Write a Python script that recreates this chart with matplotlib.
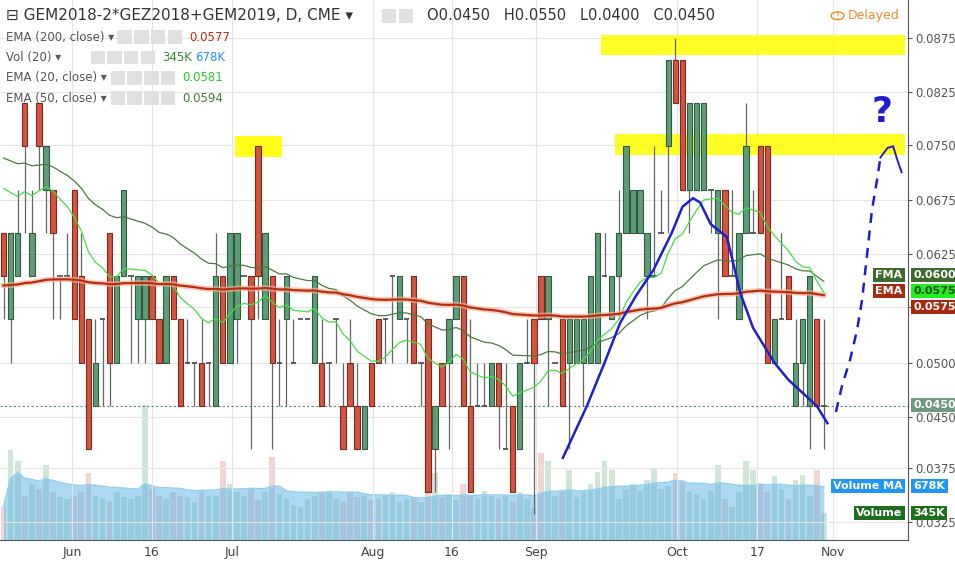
import numpy as np
import pandas as pd
import matplotlib
matplotlib.use("Agg")
import matplotlib.pyplot as plt
from matplotlib.patches import Rectangle, Circle

# OHLC in units of 0.005
opens  = [13,11,12,16,12,16,14,14,12,12,14,12,11,9,11,13,10,12,12,11,11,12,11,10,12,11,10,10,10,10,
          9,12,10,11,12,12,15,11,12,10,11,10,11,11,10,10,10,11,9,10,9,8,10,11,11,12,11,11,12,10,
          11,8,10,10,11,12,9,9,9,9,10,8,9,8,10,11,12,11,10,11,10,10,10,10,10,12,11,12,13,13,
          13,12,12,13,15,17,17,14,14,14,14,13,14,12,11,13,13,15,15,10,11,12,9,10,9,11,9]
highs  = [13,13,14,16,14,16,15,14,12,13,14,13,11,11,11,13,12,14,12,12,12,12,11,12,12,11,11,10,11,10,
          13,12,13,13,12,12,15,13,12,11,12,11,11,11,12,11,10,11,10,11,10,9,10,11,11,12,12,11,12,10,
          11,9,10,11,12,12,11,10,10,10,10,10,9,10,11,11,12,12,10,11,11,11,11,12,13,13,12,14,15,14,
          14,13,15,14,17,17.5,17,16,16,16,14,14,14,14,13,16,14,15,15,11,13,12,11,11,12,11,11]
lows   = [11,10,12,13,12,14,13,11,11,12,11,10,8,9,9,9,10,12,10,10,10,11,10,10,11,9,10,9,9,9,
          9,10,10,10,12,8,11,11,8,9,9,10,11,11,10,9,9,10,8,9,8,8,9,10,10,10,11,10,10,9,
          7,7,9,8,11,9,7,9,9,9,8,8,7,8,10,6.5,11,9,10,9,8,10,9,10,10,12,11,11,13,13,
          13,11,12,13,13,16,14,13,14,14,13,11,12,12,11,13,13,13,10,10,11,11,9,9,8,9,8]
closes = [12,13,13,15,13,15,15,13,12,12,11,10,8,10,11,10,12,14,12,12,12,11,10,12,11,9,10,10,9,10,
          12,10,13,13,12,11,12,13,10,10,12,10,11,11,12,9,10,11,8,9,8,9,9,10,11,12,12,11,10,10,
          7,9,9,11,12,9,7,9,9,10,9,8,7,10,10,10,11,12,10,9,11,11,11,12,13,12,12,13,15,14,
          14,13,12,13,17,16,14,16,16,16,14,14,12,12,13,15,13,13,10,11,11,11,10,11,12,9,9]
volumes = [420,1130,1000,560,700,640,950,600,540,520,560,600,850,560,520,480,600,540,520,560,1700,640,560,520,600,560,540,480,600,560,
           560,1000,700,600,560,640,500,600,1040,580,520,440,420,520,560,600,620,520,480,600,540,560,500,520,560,600,480,520,540,480,
           620,840,540,580,500,700,560,520,620,560,520,560,480,600,520,400,1100,1000,560,600,880,540,600,700,860,1000,880,520,640,700,
           620,760,900,640,680,840,760,600,580,520,620,940,520,420,600,1000,880,720,600,800,640,520,760,820,560,880,340]

date_pos = [9.7, 21, 32.3, 52.3, 63.4, 75.3, 95.3, 106.6, 117.3]
date_labels = ["Jun", "16", "Jul", "Aug", "16", "Sep", "Oct", "17", "Nov"]
price_ticks = [0.0875, 0.0813, 0.0751, 0.0688, 0.0626, 0.0564, 0.0500, 0.0437, 0.0378, 0.0316]
price_labels = ["0.0875", "0.0825", "0.0750", "0.0675", "0.0625", "0.0575", "0.0500", "0.0450", "0.0375", "0.0325"]

# hand-drawn annotation
draw_x = [79.1, 82.5, 85, 87.2, 89.5, 91.9, 94.5, 96, 97.5, 98.5, 100, 102.3, 104.2, 106, 109, 111, 113, 115, 116.5]
draw_y = [0.039, 0.045, 0.050, 0.0546, 0.0578, 0.0607, 0.065, 0.068, 0.069, 0.0685, 0.066, 0.0645, 0.058, 0.054, 0.050, 0.048, 0.0465, 0.045, 0.043]
dash_x = [117.7, 118.6, 119.7, 120.7, 121.4, 122.1, 122.8, 123.5, 124.0]
dash_y = [0.0443, 0.0474, 0.0503, 0.0538, 0.0572, 0.0624, 0.0676, 0.071, 0.0737]
hook_x = [124.0, 125.0, 125.8, 126.4, 127.0]
hook_y = [0.0737, 0.0748, 0.0750, 0.0734, 0.0720]

U = 0.005
o = np.array(opens) * U; h = np.array(highs) * U; l = np.array(lows) * U; c = np.array(closes) * U
x = np.arange(len(o))

def ema(vals, n, seed):
    out = []; e = seed; a = 2 / (n + 1)
    for v in vals:
        e = a * v + (1 - a) * e; out.append(e)
    return np.array(out)

ema20 = ema(c, 20, 0.0712)
ema50 = ema(c, 50, 0.0742)
ema200 = ema(c, 200, 0.0589)
volma = pd.Series(volumes).rolling(20, min_periods=1).mean().values

fig = plt.figure(figsize=(9.55, 5.64), dpi=100)
ax = fig.add_axes([0, 24/564, 908/955, 540/564])
ax.set_xlim(-0.5, 127.9)
ax.set_ylim(0.0295, 0.0919)

axv = ax.twinx()
axv.set_ylim(0, 6800)
axv.set_yticks([])
vcol = ['#a9d3b6' if cl >= op else '#e8b4ad' for op, cl in zip(o, c)]
axv.bar(x, volumes, width=0.8, color=vcol, alpha=0.55, zorder=1)
axv.fill_between(x, 0, volma, color='#5ab4e4', alpha=0.5, lw=0, zorder=2)
axv.plot(x, volma, color='#8ccdf0', lw=1, zorder=2)
ax.set_zorder(axv.get_zorder() + 1); ax.patch.set_visible(False)
axv.patch.set_facecolor('white')

for p in date_pos:
    ax.axvline(p, color='#e4e4e4', lw=0.8, zorder=0)
for p in price_ticks:
    ax.axhline(p, color='#e4e4e4', lw=0.8, zorder=0)

for i in range(len(o)):
    up = c[i] >= o[i]
    ax.vlines(x[i], l[i], h[i], color='#666666', lw=0.9, zorder=3)
    if o[i] == c[i]:
        ax.hlines(o[i], x[i]-0.4, x[i]+0.4, color='#444444', lw=1.2, zorder=4)
    else:
        ax.add_patch(Rectangle((x[i]-0.38, min(o[i], c[i])), 0.76, abs(c[i]-o[i]),
                               facecolor='#5e9c77' if up else '#d35440',
                               edgecolor='#2e5a40' if up else '#7d2a1c', lw=0.8, zorder=4))

ax.plot(x, ema50, color='#4a7a3e', lw=0.9, zorder=5)
ax.plot(x, ema20, color='#44dd44', lw=0.9, zorder=5)
ax.plot(x, ema200, color='#f3b3a0', lw=4, zorder=5, alpha=0.7)
ax.plot(x, ema200, color='#b5300e', lw=1.6, zorder=5)
ax.axhline(0.045, color='#5a8c6e', lw=0.8, ls=(0, (2, 2)), zorder=2)

ax.add_patch(Rectangle((84.5, 0.0855), 43, 0.0024, color='#ffff00', alpha=0.85, lw=0, zorder=2))
ax.add_patch(Rectangle((86.5, 0.0740), 41, 0.0024, color='#ffff00', alpha=0.85, lw=0, zorder=2))
ax.add_patch(Rectangle((32.8, 0.0738), 6.6, 0.0024, color='#ffff00', alpha=0.9, lw=0, zorder=2))

ax.plot(draw_x, draw_y, color='#1f1fd0', lw=1.8, zorder=7)
ax.plot(dash_x, dash_y, color='#1f1fd0', lw=1.8, ls=(0, (4, 3)), zorder=7)
ax.plot(hook_x, hook_y, color='#1f1fd0', lw=1.4, zorder=7)
ax.text(124.2, 0.0790, "?", color='#1f1fd0', fontsize=26, fontweight='bold', ha='center', va='center', zorder=7)

ax.set_xticks(date_pos); ax.set_xticklabels(date_labels)
ax.tick_params(axis='x', length=0, labelsize=9, colors='#444444', pad=4)
ax.yaxis.tick_right()
ax.set_yticks(price_ticks); ax.set_yticklabels(price_labels)
ax.tick_params(axis='y', length=3, labelsize=8.5, colors='#555555', pad=2)
for s in ['top', 'left']:
    ax.spines[s].set_visible(False)
ax.spines['right'].set_color('#555555'); ax.spines['bottom'].set_color('#555555')
for s in axv.spines.values():
    s.set_visible(False)

def box(yv, txt, fc, tc='white'):
    ax.text(1.006, yv, txt, transform=ax.get_yaxis_transform(), ha='left', va='center', fontsize=8,
            color=tc, fontweight='bold', zorder=10,
            bbox=dict(boxstyle='square,pad=0.2', fc=fc, ec='none'), clip_on=False)
def lbox(yv, txt, fc):
    ax.text(0.994, yv, txt, transform=ax.get_yaxis_transform(), ha='right', va='center', fontsize=8,
            color='white', fontweight='bold', zorder=10,
            bbox=dict(boxstyle='square,pad=0.2', fc=fc, ec='none'), clip_on=False)
box(0.0601, "0.0600", '#3d6b2e')
box(0.0583, "0.0575", '#22ee22', tc='#1a4d1a')
box(0.0564, "0.0575", '#a72a10')
box(0.0451, "0.0450", '#6e9a82')
lbox(0.0601, "FMA", '#3d6b2e')
lbox(0.0583, "EMA", '#a72a10')
vma_y = 0.045 - (486-406)/8660
vol_y = 0.045 - (513-406)/8660
lbox(vma_y, "Volume MA", '#2196f3'); box(vma_y, "678K", '#2196f3')
lbox(vol_y, "Volume", '#1e6e1e'); box(vol_y, "345K", '#1e6e1e')

fig.text(0.006, 0.972, "⊟ GEM2018-2*GEZ2018+GEM2019, D, CME ▾", fontsize=11, color='#333333', va='center')
fig.text(0.447, 0.972, "O0.0450   H0.0550   L0.0400   C0.0450", fontsize=10.5, color='#333333', va='center')
fig.text(0.942, 0.972, "Delayed", fontsize=9, color='#f08a24', ha='right', va='center')
fig.patches.append(Circle((0.877, 0.972), 0.0068, transform=fig.transFigure, fc='none', ec='#f08a24', lw=1))
fig.text(0.877, 0.972, "!", fontsize=7, color='#f08a24', ha='center', va='center')
rows = [("EMA (200, close)", [("0.0577", '#b5300e')], 0.934, 0.123),
        ("Vol (20)", [("345K", '#2e8b2e'), ("678K", '#2196f3')], 0.898, 0.095),
        ("EMA (20, close)", [("0.0581", '#22cc22')], 0.862, 0.116),
        ("EMA (50, close)", [("0.0594", '#4a7a3e')], 0.826, 0.116)]
for name, vals, yy, ix in rows:
    fig.text(0.006, yy, name + " ▾", fontsize=8.5, color='#555555', va='center')
    for k in range(4):
        fig.patches.append(Rectangle((ix + k*0.0175, yy-0.012), 0.015, 0.024, transform=fig.transFigure,
                                     fc='#e0e0e0', ec='none'))
    vx = ix + 0.075
    for v, col in vals:
        fig.text(vx, yy, v, fontsize=8.5, color=col, va='center')
        vx += 0.034
for k in range(2):
    fig.patches.append(Rectangle((0.400 + k*0.0175, 0.960), 0.015, 0.024, transform=fig.transFigure,
                                 fc='#e0e0e0', ec='none'))

fig.savefig("out.png", dpi=100)
